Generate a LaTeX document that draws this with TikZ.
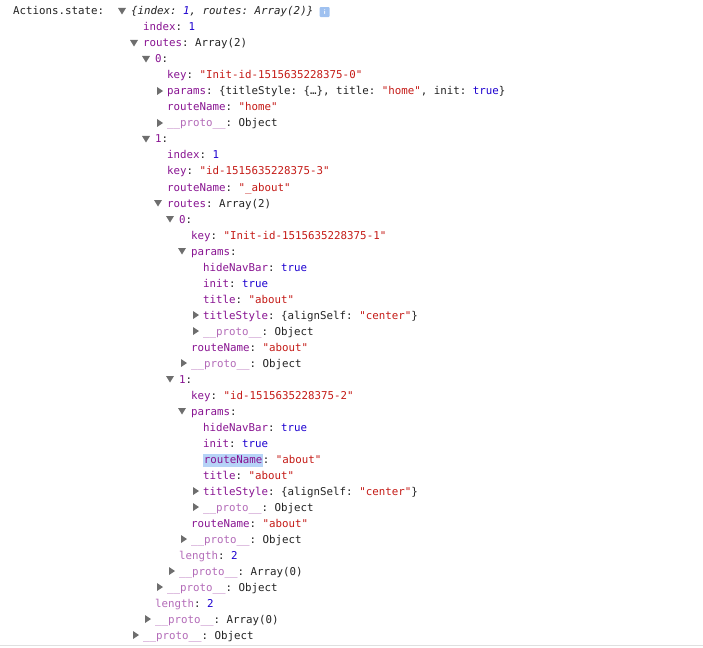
\documentclass[tikz,border=0pt]{standalone}
\usepackage{fontspec}
\setmonofont{DejaVu Sans Mono}
\usetikzlibrary{positioning}
\definecolor{keyc}{HTML}{881391}
\definecolor{dimc}{HTML}{B36BB8}
\definecolor{strc}{HTML}{C41A16}
\definecolor{numc}{HTML}{1C00CF}
\definecolor{txtc}{HTML}{222222}
\definecolor{arrc}{HTML}{6E6E6E}
\definecolor{selc}{HTML}{B6D3F7}
\definecolor{infoc}{HTML}{9FC1F0}
\newcommand{\ky}[1]{\textcolor{keyc}{#1}}
\newcommand{\dk}[1]{\textcolor{dimc}{#1}}
\newcommand{\st}[1]{\textcolor{strc}{"#1"}}
\newcommand{\nm}[1]{\textcolor{numc}{#1}}
\newcommand{\hl}[1]{{\setlength{\fboxsep}{0.6pt}\colorbox{selc}{\strut#1}}}
% one console row: number, depth, text
\newcommand{\entry}[3]{\node[row] (r#1) at ({131+12*#2},{15+16*(#1-1)}) {#3};}
\newcommand{\opened}[2]{\fill[arrc] ({118+12*#2},{8+16*(#1-1)}) -- ++(8,0) -- ++(-4,6.5) -- cycle;}
\newcommand{\closed}[2]{\fill[arrc] ({121+12*#2},{7+16*(#1-1)}) -- ++(0,8) -- ++(6,-4) -- cycle;}
\begin{document}
\begin{tikzpicture}[x=1pt,y=-1pt,
    row/.style={anchor=base west,inner sep=0pt,font=\ttfamily\fontsize{10.8}{12}\selectfont,text=txtc}]
\useasboundingbox (0,0) rectangle (703,647);
\draw[black!12] (0,645.5) -- (703,645.5);

\node[row] (title) at (13,15) {Actions.state:};
\opened{1}{0}
\entry{1}{0}{\textit{\{index: \nm{1}, routes: Array(2)\}}}
\node[fill=infoc,rounded corners=1pt,minimum size=10pt,inner sep=0pt,text=white,
      font=\sffamily\bfseries\scriptsize,right=6pt of r1.east] (info) {i};
\entry{2}{1}{\ky{index}: \nm{1}}
\opened{3}{1}
\entry{3}{1}{\ky{routes}: Array(2)}
\opened{4}{2}
\entry{4}{2}{\ky{0}:}
\entry{5}{3}{\ky{key}: \st{Init-id-1515635228375-0}}
\closed{6}{3}
\entry{6}{3}{\ky{params}: \{titleStyle: \{…\}, title: \st{home}, init: \nm{true}\}}
\entry{7}{3}{\ky{routeName}: \st{home}}
\closed{8}{3}
\entry{8}{3}{\dk{\_\_proto\_\_}: Object}
\opened{9}{2}
\entry{9}{2}{\ky{1}:}
\entry{10}{3}{\ky{index}: \nm{1}}
\entry{11}{3}{\ky{key}: \st{id-1515635228375-3}}
\entry{12}{3}{\ky{routeName}: \st{\_about}}
\opened{13}{3}
\entry{13}{3}{\ky{routes}: Array(2)}
\opened{14}{4}
\entry{14}{4}{\ky{0}:}
\entry{15}{5}{\ky{key}: \st{Init-id-1515635228375-1}}
\opened{16}{5}
\entry{16}{5}{\ky{params}:}
\entry{17}{6}{\ky{hideNavBar}: \nm{true}}
\entry{18}{6}{\ky{init}: \nm{true}}
\entry{19}{6}{\ky{title}: \st{about}}
\closed{20}{6}
\entry{20}{6}{\ky{titleStyle}: \{alignSelf: \st{center}\}}
\closed{21}{6}
\entry{21}{6}{\dk{\_\_proto\_\_}: Object}
\entry{22}{5}{\ky{routeName}: \st{about}}
\closed{23}{5}
\entry{23}{5}{\dk{\_\_proto\_\_}: Object}
\opened{24}{4}
\entry{24}{4}{\ky{1}:}
\entry{25}{5}{\ky{key}: \st{id-1515635228375-2}}
\opened{26}{5}
\entry{26}{5}{\ky{params}:}
\entry{27}{6}{\ky{hideNavBar}: \nm{true}}
\entry{28}{6}{\ky{init}: \nm{true}}
\entry{29}{6}{\hl{\ky{routeName}}: \st{about}}
\entry{30}{6}{\ky{title}: \st{about}}
\closed{31}{6}
\entry{31}{6}{\ky{titleStyle}: \{alignSelf: \st{center}\}}
\closed{32}{6}
\entry{32}{6}{\dk{\_\_proto\_\_}: Object}
\entry{33}{5}{\ky{routeName}: \st{about}}
\closed{34}{5}
\entry{34}{5}{\dk{\_\_proto\_\_}: Object}
\entry{35}{4}{\dk{length}: \nm{2}}
\closed{36}{4}
\entry{36}{4}{\dk{\_\_proto\_\_}: Array(0)}
\closed{37}{3}
\entry{37}{3}{\dk{\_\_proto\_\_}: Object}
\entry{38}{2}{\dk{length}: \nm{2}}
\closed{39}{2}
\entry{39}{2}{\dk{\_\_proto\_\_}: Array(0)}
\closed{40}{1}
\entry{40}{1}{\dk{\_\_proto\_\_}: Object}
\end{tikzpicture}
\end{document}
